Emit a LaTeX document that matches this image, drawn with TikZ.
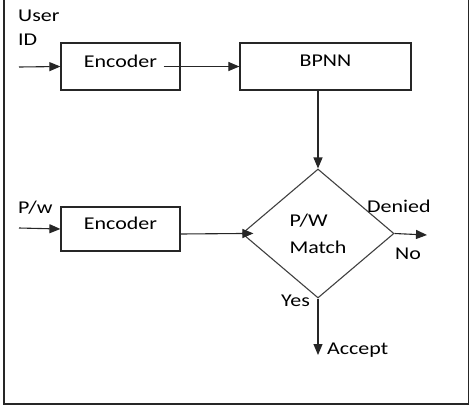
\documentclass[tikz,border=0pt]{standalone}
\usepackage{fontspec}
\setmainfont{Carlito}[FakeStretch=1.22]
\usetikzlibrary{shapes.geometric,arrows.meta}

\begin{document}
\begin{tikzpicture}[x=1pt,y=-1pt,
	font=\fontsize{18}{24}\selectfont,
	box/.style={draw=black!85,line width=1.2pt,minimum width=119pt,minimum height=47pt,inner sep=0pt,text depth=10.6pt},
	decision/.style={diamond,draw=black!75,line width=1.1pt,minimum width=152pt,minimum height=129pt,inner sep=0pt,aspect=1.18},
	lbl/.style={inner sep=0pt},
	arr/.style={-{Triangle[length=11pt,width=9pt]},line width=1.1pt,black!85}]
	\useasboundingbox (0,0) rectangle (474,410);
	\draw[line width=1.6pt,black!85] (4,0) -- (4,404) -- (468.5,404) -- (468.5,0);
	% blocks
	\node[box] (enc1) at (120.5,66.5) {Encoder};
	\node[box,minimum width=171pt] (bpnn) at (325.5,66.5) {BPNN};
	\node[box,minimum height=44pt] (enc2) at (120.5,229) {Encoder};
	\node[decision,align=left,font=\fontsize{18}{27}\selectfont] (match) at (318,233.5) {P/W\\Match};
	% free ends
	\coordinate (uin) at (19,67);
	\coordinate (pin) at (19,228);
	\coordinate (no) at (427,235);
	\coordinate (acc) at (318,355);
	% connectors
	\draw[arr] (uin) -- (enc1.west);
	\draw[arr] ([xshift=-17pt]enc1.east) -- (bpnn.west);
	\draw[arr] (bpnn.south -| match.north) -- (match.north);
	\draw[arr] (pin) -- (enc2.west);
	\draw[arr,shorten >=-12pt] ([yshift=-5pt]enc2.east) -- (match.west);
	\draw[arr] (match.east) -- (no);
	\draw[arr] (match.south) -- (acc);
	% labels
	\node[lbl,align=left,anchor=north west] (user) at (18,10) {User\\ID};
	\node[lbl,anchor=base west] (pw) at (18,213) {P/w};
	\node[lbl,anchor=base west] (denied) at (367,212) {Denied};
	\node[lbl,anchor=base west] (nolbl) at (395,259) {No};
	\node[lbl,anchor=base west] (yes) at (281,306.5) {Yes};
	\node[lbl,anchor=base west] (accept) at (327,354) {Accept};
\end{tikzpicture}
\end{document}
